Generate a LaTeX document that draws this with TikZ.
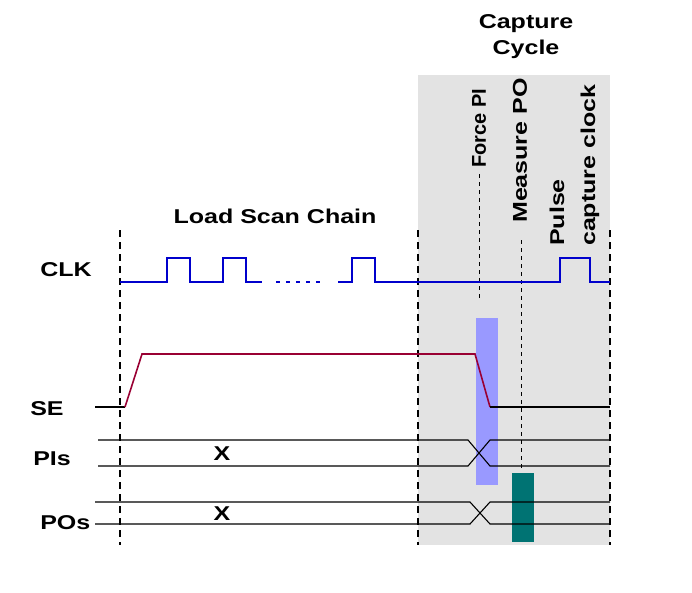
\documentclass[tikz,border=0pt]{standalone}
\usepackage{fontspec}
\setmainfont{Liberation Sans}
\begin{document}
\begin{tikzpicture}[x=1pt,y=-1pt,
  lbl/.style={font=\bfseries\fontsize{20}{23}\selectfont,inner sep=0},
  hlbl/.style={lbl,xscale=1.25},
  vlbl/.style={lbl,rotate=90,anchor=west},
  dsh/.style={black,line width=1.1pt,dash pattern=on 7pt off 5pt},
  sig/.style={black,line width=1.1pt},
  clk/.style={blue!80!black,line width=1.6pt}]
\useasboundingbox (0,0) rectangle (692,592);
\fill[gray!22] (418,75) rectangle (610,545);
\fill[blue!40!white] (476,318) rectangle (498,485);
\fill[teal!90!black] (512,473) rectangle (534,542);
\foreach \x in {120,418,610} \draw[dsh] (\x,230) -- (\x,545);
\draw[black,line width=0.8pt,dash pattern=on 4pt off 4pt] (479,174) -- (479,300);
\draw[black,line width=0.8pt,dash pattern=on 4pt off 4pt] (521,240) -- (521,470);
% CLK
\draw[clk] (120,282) -- (167,282) -- (167,258) -- (190,258) -- (190,282) -- (223,282) -- (223,258) -- (246,258) -- (246,282) -- (262,282);
\draw[clk,dash pattern=on 4pt off 6pt] (276,282) -- (322,282);
\draw[clk] (338,282) -- (352,282) -- (352,258) -- (375,258) -- (375,282) -- (560,282) -- (560,258) -- (590,258) -- (590,282) -- (610,282);
% SE
\draw[sig] (95,407) -- (125,407);
\draw[purple!80!black,line width=1.6pt] (125,407) -- (142,354) -- (475,354) -- (490,407);
\draw[sig] (490,407) -- (610,407);
% PIs
\draw[sig] (98,440) -- (468,440) -- (490,466) -- (610,466);
\draw[sig] (98,466) -- (468,466) -- (490,440) -- (610,440);
% POs
\draw[sig] (95,502) -- (470,502) -- (490,524) -- (610,524);
\draw[sig] (95,524) -- (470,524) -- (490,502) -- (610,502);
\node[hlbl] (x1) at (222,454) {X};
\node[hlbl] (x2) at (222,514) {X};
\node[hlbl,anchor=west] (clkl) at (40,270) {CLK};
\node[hlbl,anchor=west] (sel) at (30,409) {SE};
\node[hlbl,anchor=west] (pil) at (33,459) {PIs};
\node[hlbl,anchor=west] (pol) at (40,523) {POs};
\node[hlbl] (lsc) at (275,216) {Load Scan Chain};
\node[hlbl,align=center] (cc) at (526,37) {Capture\\[3pt]Cycle};
\node[vlbl] (fpi) at (479,168) {Force PI};
\node[vlbl] (mpo) at (520,223) {\scalebox{1.25}[1]{Measure PO}};
\node[vlbl] (pul) at (557,246) {\scalebox{1.25}[1]{Pulse}};
\node[vlbl] (ccl) at (590,246) {\scalebox{1.25}[1]{capture clock}};
\end{tikzpicture}
\end{document}
